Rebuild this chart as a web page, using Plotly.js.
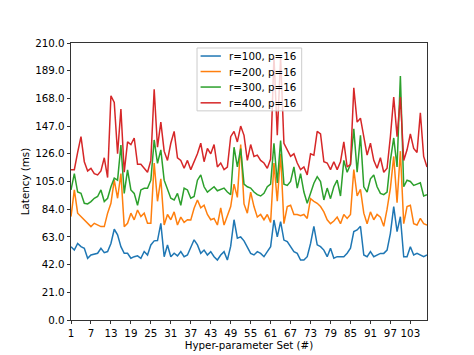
<!DOCTYPE html>
<html>
<head>
<meta charset="utf-8">
<script src="https://cdn.plot.ly/plotly-3.0.1.min.js"></script>
<style>html,body{margin:0;padding:0;background:#fff;}#chart{width:474px;height:355px;}</style>
</head>
<body>
<div id="chart"></div>
<script>
const seriesNames = ["r=100, p=16", "r=200, p=16", "r=300, p=16", "r=400, p=16"];
const seriesColors = ["#1f77b4", "#ff7f0e", "#2ca02c", "#d62728"];

const r100 = [55.6, 53, 58, 55.6, 54.4, 46.8, 49.3, 50, 50.6, 54.4, 51.1, 51.9, 58, 68.8, 64.5, 55.6, 50.6, 50.6, 46.8, 48,
  48.6, 46.8, 51.9, 49.3, 56.9, 60, 60.2, 73.3, 48, 56.9, 48, 50.6, 48.6, 51.9, 48, 49.3, 55.6, 60.8, 56.9, 50.5,
  53, 49.3, 51.8, 48, 45.5, 49.3, 51.8, 45.5, 56, 76, 62, 63, 60, 55.6, 50.5, 49.3, 51.8, 50.5, 48, 51.8,
  55.6, 75.8, 63, 74.5, 60.6, 59.4, 55.6, 51.8, 50.5, 45.5, 45.5, 48, 58, 71, 57, 55.6, 53, 48, 54.4, 46.8,
  48, 48, 48, 50.6, 54.4, 67, 68.3, 71, 49.3, 48, 51.8, 48, 49.3, 50.5, 50.5, 53, 65.7, 86, 67, 78.3,
  48, 48, 55.6, 49.3, 50.5, 49.3, 48, 49.3];

const r200 = [78.4, 98.6, 81, 78.4, 75.9, 73.3, 70.8, 73.3, 72, 70.8, 70.8, 81, 88.5, 106, 92.3, 111, 70.8, 73.3, 81, 75.9,
  83.4, 78.4, 81, 73.3, 73.3, 119, 90, 107, 72, 80, 76, 82, 72, 78, 74, 76, 75.9, 84.7, 91, 85,
  87, 80, 76, 77, 72, 85, 72, 79, 86, 103, 93, 133, 88, 81, 97, 86, 78, 80, 76, 80,
  74, 119, 90, 126, 73, 86, 87, 80, 80, 79, 80, 77, 92, 90, 88.5, 86, 82, 76, 73, 75,
  78, 73, 80, 77, 80, 114, 94, 99, 81, 73, 82, 76, 80, 78, 71, 84, 100, 124, 89, 128,
  73, 86, 87, 73, 72, 77, 73, 72];

const r300 = [98.6, 111, 97, 96, 88.5, 88, 89.8, 92.3, 93.6, 98.6, 89.8, 92.3, 101, 107.5, 106, 132.7, 96, 113.8, 98.6, 96,
  87, 98.6, 99.9, 99.9, 106, 136.5, 118.8, 129, 106, 98.6, 92.3, 91, 96, 87, 99.9, 98.6, 92.3, 93.6, 106, 110,
  101, 97, 99, 101, 98, 99, 100, 97, 95, 131, 116, 130, 103, 101, 100, 97, 95, 94, 96, 101,
  103, 134, 104, 136, 103, 102, 105, 116, 100, 111, 97, 88.5, 96, 103.7, 108.7, 105, 91, 100, 92, 101,
  106, 94, 121, 112, 118, 145, 112, 140, 101, 97, 107, 110, 101, 96, 95, 97, 121, 138, 116, 185,
  101, 106, 105, 102, 103, 104, 94, 95];

const r400 = [114, 114, 127, 139, 120, 113, 115, 111, 110, 113, 123, 108, 170, 165, 126, 160, 112, 135, 133, 138,
  118, 118, 115, 112, 121, 175, 131, 150, 128, 121, 134, 143, 123, 121, 115, 121, 114, 120, 126, 134,
  120, 130, 126, 133, 116, 119, 114, 116, 139, 143, 135, 147, 140, 121, 133, 124, 125, 121, 119, 115,
  122, 200, 140, 199, 134, 129, 124, 126, 119, 114, 116, 110, 126, 125, 143, 141, 120, 119, 114, 120,
  114, 120, 135, 116, 118, 176, 150, 153, 139, 125, 134, 121, 115, 123, 112, 115, 139, 169, 139, 169,
  121, 129, 141, 130, 127, 157, 124, 116];

const xs = r100.map((_, i) => i + 1);
const allSeries = [r100, r200, r300, r400];
const xTicks = [1, 7, 13, 19, 25, 31, 37, 43, 49, 55, 61, 67, 73, 79, 85, 91, 97, 103];
const yTicks = [0, 21, 42, 63, 84, 105, 126, 147, 168, 189, 210];

const traces = allSeries.map((ys, k) => ({
  x: xs, y: ys, type: 'scatter', mode: 'lines', name: seriesNames[k],
  line: {color: seriesColors[k], width: 1.5}, showlegend: false
}));

const fontFam = 'DejaVu Sans, sans-serif';
const axisCommon = {
  showline: true, mirror: true, linecolor: '#000', linewidth: 0.8,
  ticks: 'outside', ticklen: 3.5, tickwidth: 0.8, tickcolor: '#000',
  showgrid: false, zeroline: false,
  tickfont: {family: fontFam, size: 10.3, color: '#000'}
};

// Legend drawn as box + sample lines + text (paper coordinates)
const legBox = {x0: 0.354, x1: 0.648, y0: 0.755, y1: 0.982};
const legLineX = [0.364, 0.421];
const legTextX = 0.437;
const legRowY = [0.953, 0.897, 0.841, 0.784];

const shapes = [{
  type: 'rect', xref: 'paper', yref: 'paper', layer: 'above',
  x0: legBox.x0, x1: legBox.x1, y0: legBox.y0, y1: legBox.y1,
  fillcolor: 'rgba(255,255,255,0.8)', line: {color: '#cccccc', width: 1}
}];
const annotations = [];
seriesNames.forEach((nm, k) => {
  shapes.push({
    type: 'line', xref: 'paper', yref: 'paper', layer: 'above',
    x0: legLineX[0], x1: legLineX[1], y0: legRowY[k], y1: legRowY[k],
    line: {color: seriesColors[k], width: 1.5}
  });
  annotations.push({
    xref: 'paper', yref: 'paper', x: legTextX, y: legRowY[k],
    xanchor: 'left', yanchor: 'middle', showarrow: false, text: nm,
    font: {family: fontFam, size: 10.3, color: '#000'}
  });
});

const layout = {
  width: 474, height: 355,
  margin: {l: 71, r: 47, t: 43, b: 35, pad: 0},
  paper_bgcolor: '#fff', plot_bgcolor: '#fff',
  font: {family: fontFam, size: 10.3, color: '#000'},
  xaxis: Object.assign({}, axisCommon, {
    range: [1, 108], tickmode: 'array', tickvals: xTicks, ticktext: xTicks.map(String),
    title: {text: 'Hyper-parameter Set (#)', font: {family: fontFam, size: 10.3, color: '#000'}, standoff: 4}
  }),
  yaxis: Object.assign({}, axisCommon, {
    range: [0, 210], tickmode: 'array', tickvals: yTicks, ticktext: yTicks.map(v => v.toFixed(1)),
    title: {text: 'Latency (ms)', font: {family: fontFam, size: 10.3, color: '#000'}, standoff: 3}
  }),
  showlegend: false,
  shapes: shapes,
  annotations: annotations
};

Plotly.newPlot('chart', traces, layout, {displayModeBar: false, staticPlot: true});
</script>
</body>
</html>
